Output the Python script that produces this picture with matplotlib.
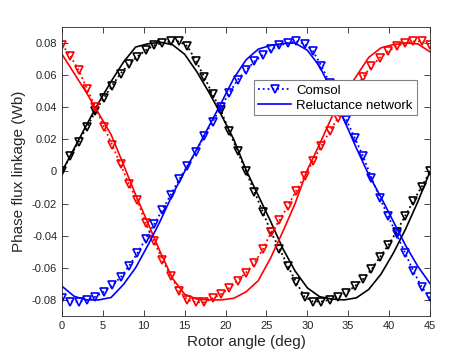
import numpy as np
import matplotlib
matplotlib.use("Agg")
import matplotlib.pyplot as plt

# Comsol samples: 45 points spread over 0..45 deg
comsol_angle = np.linspace(0, 45, 45)

black_comsol = [0.0, 0.0095, 0.0185, 0.028, 0.0375, 0.046, 0.0535, 0.061, 0.067, 0.0715,
                0.0755, 0.0785, 0.080, 0.081, 0.081, 0.078, 0.069, 0.059, 0.048, 0.038,
                0.025, 0.0125, 0.0, -0.0125, -0.025, -0.038, -0.048, -0.059, -0.069, -0.078,
                -0.081, -0.081, -0.080, -0.0785, -0.0755, -0.0715, -0.067, -0.061, -0.0535, -0.046,
                -0.0375, -0.028, -0.0185, -0.0095, 0.0]

blue_comsol = [-0.079, -0.081, -0.081, -0.080, -0.078, -0.075, -0.071, -0.066, -0.059, -0.051,
               -0.042, -0.033, -0.024, -0.0145, -0.005, 0.0035, 0.012, 0.022, 0.031, 0.040,
               0.049, 0.057, 0.063, 0.0685, 0.0725, 0.076, 0.0785, 0.080, 0.081, 0.0795,
               0.075, 0.066, 0.055, 0.044, 0.032, 0.021, 0.0095, -0.004, -0.0165, -0.028,
               -0.039, -0.0505, -0.062, -0.072, -0.0785]

red_comsol = [0.079, 0.072, 0.063, 0.0515, 0.040, 0.028, 0.0165, 0.0045, -0.008, -0.018,
              -0.032, -0.0434, -0.055, -0.065, -0.0745, -0.080, -0.0815, -0.0815, -0.079, -0.0765,
              -0.0725, -0.068, -0.063, -0.057, -0.0486, -0.038, -0.0305, -0.0216, -0.012, -0.003,
              0.0064, 0.0158, 0.025, 0.0334, 0.042, 0.051, 0.059, 0.0655, 0.0708, 0.075,
              0.078, 0.080, 0.081, 0.081, 0.079]

# Reluctance network curves, every 1.5 deg
rn_angle = [0, 1.5, 3, 4.5, 6, 7.5, 9, 10.5, 12, 13.5, 15, 16.5, 18, 19.5, 21, 22.5,
            24, 25.5, 27, 28.5, 30, 31.5, 33, 34.5, 36, 37.5, 39, 40.5, 42, 43.5, 45]

black_rn = [0.0, 0.0145, 0.029, 0.043, 0.056, 0.068, 0.0775, 0.0795, 0.0805, 0.079,
            0.073, 0.062, 0.049, 0.035, 0.020, 0.001, -0.015, -0.031, -0.048, -0.062,
            -0.0725, -0.078, -0.0795, -0.080, -0.0787, -0.0735, -0.064, -0.051, -0.036, -0.019, 0.0]

blue_rn = [-0.0715, -0.0778, -0.080, -0.080, -0.0785, -0.0705, -0.060, -0.046, -0.031, -0.0145,
           0.0, 0.014, 0.0285, 0.043, 0.058, 0.0695, 0.0762, 0.0785, 0.0797, 0.080,
           0.0755, 0.0655, 0.050, 0.032, 0.0145, -0.002, -0.016, -0.031, -0.046, -0.059, -0.0698]

red_rn = [0.073, 0.061, 0.049, 0.036, 0.023, 0.0045, -0.0145, -0.032, -0.050, -0.0665,
          -0.0765, -0.0795, -0.080, -0.080, -0.079, -0.075, -0.068, -0.054, -0.0375, -0.020,
          0.001, 0.017, 0.034, 0.048, 0.0594, 0.071, 0.077, 0.079, 0.080, 0.0795, 0.0745]

plt.rcParams['font.family'] = ['Liberation Sans', 'DejaVu Sans']
gray = '#262626'

fig = plt.figure(figsize=(4.74, 3.55), dpi=100)
ax = fig.add_axes([0.1308, 0.110, 0.7764, 0.814])

for comsol, rn, col in [(black_comsol, black_rn, 'k'),
                        (red_comsol, red_rn, 'r'),
                        (blue_comsol, blue_rn, 'b')]:
    ax.plot(comsol_angle, comsol, linestyle=':', color=col, lw=1.3, marker='v',
            markersize=6, markerfacecolor='none', markeredgewidth=1.2)
    ax.plot(rn_angle, rn, linestyle='-', color=col, lw=1.2)

ax.set_xlim(0, 45)
ax.set_ylim(-0.09, 0.09)
ax.set_xticks(np.arange(0, 46, 5))
yt = [-0.08, -0.06, -0.04, -0.02, 0, 0.02, 0.04, 0.06, 0.08]
ax.set_yticks(yt)
ax.set_yticklabels(['-0.08', '-0.06', '-0.04', '-0.02', '0', '0.02', '0.04', '0.06', '0.08'])
ax.tick_params(direction='in', top=True, right=True, length=4, width=0.6,
               colors=gray, labelsize=8)
for s in ax.spines.values():
    s.set_color(gray)
    s.set_linewidth(0.6)

ax.set_xlabel('Rotor angle (deg)', fontsize=11, color=gray, labelpad=3)
ax.set_ylabel('Phase flux linkage (Wb)', fontsize=11, color=gray, labelpad=4)

from matplotlib.lines import Line2D
handles = [Line2D([], [], linestyle=':', color='b', lw=1.3, marker='v', markersize=6,
                  markerfacecolor='none', markeredgewidth=1.2),
           Line2D([], [], linestyle='-', color='b', lw=1.2)]
leg = ax.legend(handles, ['Comsol', 'Reluctance network'], loc='upper left',
                bbox_to_anchor=(0.522, 0.815), fontsize=9.5, fancybox=False,
                framealpha=1, edgecolor='#808080', handlelength=2.5,
                borderpad=0.3, labelspacing=0.2, handletextpad=0.4, borderaxespad=0)
leg.get_frame().set_linewidth(0.8)

fig.savefig('out.png', dpi=100)
